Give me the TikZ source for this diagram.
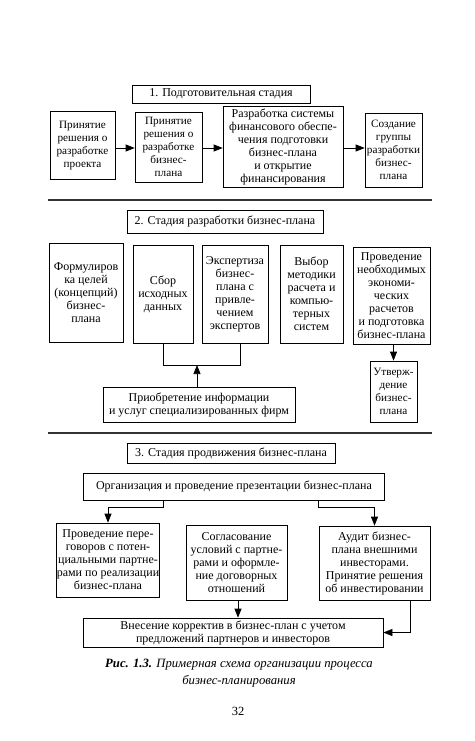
\documentclass[tikz,border=0pt]{standalone}
\usepackage{fontspec}
\setmainfont{Liberation Serif}
\usetikzlibrary{arrows.meta}
\begin{document}
\begin{tikzpicture}[x=1pt,y=-1pt,
  box/.style={draw, line width=0.7pt, align=center, inner sep=0pt,
    font=\fontsize{12}{13}\selectfont},
  nbox/.style={box, font=\fontsize{11.2}{13}\selectfont},
  arr/.style={line width=0.7pt, -{Triangle[length=9pt,width=7pt]}},
  conn/.style={line width=0.7pt},
  sep/.style={line width=1.1pt, black!80}]
\useasboundingbox (0,0) rectangle (474,741);
% Stage 1
\node[box, minimum width=178pt, minimum height=18pt] (T1) at (221,94) {1. Подготовительная стадия};
\node[nbox, minimum width=65pt, minimum height=68pt] (A) at (82.5,145.5) {Принятие\\решения о\\разработке\\проекта};
\node[nbox, minimum width=67pt, minimum height=70pt] (B) at (168.5,147) {Принятие\\решения о\\разработке\\бизнес-\\плана};
\node[box, minimum width=120pt, minimum height=81pt] (C) at (283,146.5) {Разработка системы\\финансового обеспе-\\чения подготовки\\бизнес-плана\\и открытие\\финансирования};
\node[nbox, minimum width=57pt, minimum height=74pt] (D) at (393.5,150) {Создание\\группы\\разработки\\бизнес-\\плана};
\draw[arr] (A.east |- 0,148) -- (B.west |- 0,148);
\draw[arr] (B.east |- 0,148) -- (C.west |- 0,148);
\draw[arr] (C.east |- 0,148) -- (D.west |- 0,148);
\coordinate (s1l) at (48,200);
\coordinate (s1r) at (432,200);
\draw[sep] (s1l) -- (s1r);
% Stage 2
\node[box, minimum width=196pt, minimum height=23pt] (T2) at (225,221.5) {2. Стадия разработки бизнес-плана};
\node[box, minimum width=74pt, minimum height=99pt] (F1) at (86,292.5) {Формулиров\\ка целей\\(концепций)\\бизнес-\\плана};
\node[box, minimum width=60pt, minimum height=98pt] (F2) at (163,294) {Сбор\\исходных\\данных};
\node[box, minimum width=66pt, minimum height=98pt] (F3) at (235,294) {Экспертиза\\бизнес-\\плана с\\привле-\\чением\\экспертов};
\node[box, minimum width=63pt, minimum height=98pt] (F4) at (311.5,294) {Выбор\\методики\\расчета и\\компью-\\терных\\систем};
\node[box, minimum width=77pt, minimum height=97pt] (F5) at (391.5,295.5) {Проведение\\необходимых\\экономи-\\ческих\\расчетов\\и подготовка\\бизнес-плана};
\node[nbox, minimum width=47pt, minimum height=61pt] (F6) at (393.5,391.5) {Утверж-\\дение\\бизнес-\\плана};
\node[box, minimum width=192pt, minimum height=35pt] (G) at (199,404.5) {Приобретение информации\\и услуг специализированных фирм};
\draw[arr] (F5.south -| F6.north) -- (F6.north);
\coordinate (br) at (240,365);
\draw[conn] (F2.south) |- (br) -- (br |- F3.south);
\draw[arr] (G.north -| 197,0) -- (197,365);
\coordinate (s2l) at (48,433);
\coordinate (s2r) at (432,433);
\draw[sep] (s2l) -- (s2r);
% Stage 3
\node[box, minimum width=208pt, minimum height=20pt] (T3) at (231,453) {3. Стадия продвижения бизнес-плана};
\node[box, minimum width=301pt, minimum height=27pt] (O) at (234,486.5) {Организация и проведение презентации бизнес-плана};
\node[box, minimum width=100pt, minimum height=74pt] (H) at (108,560) {Проведение пере-\\говоров с потен-\\циальными партне-\\рами по реализации\\бизнес-плана};
\node[box, minimum width=101pt, minimum height=75pt] (I) at (236.5,562.5) {Согласование\\условий с партне-\\рами и оформле-\\ние договорных\\отношений};
\node[box, minimum width=111pt, minimum height=74pt] (J) at (374.5,563) {Аудит бизнес-\\плана внешними\\инвесторами.\\Принятие решения\\об инвестировании};
\node[box, minimum width=300pt, minimum height=29pt] (K) at (233,632.5) {Внесение корректив в бизнес-план с учетом\\предложений партнеров и инвесторов};
\draw[arr] ([xshift=-71pt]O.south) -- ++(0,7) -| (H.north);
\draw[arr] ([xshift=84pt]O.south) -- ++(0,7) -| (J.north);
\draw[arr] ([xshift=1.5pt]I.south) -- ([xshift=1.5pt]I.south |- K.north);
\draw[arr] ([xshift=35.5pt]J.south) |- (K.east);
% Caption
\node[align=center, inner sep=0pt, font=\fontsize{12.7}{17}\selectfont\itshape] (cap) at (239,673.5) {\textbf{Рис. 1.3.} Примерная схема организации процесса\\бизнес-планирования};
\node[inner sep=0pt, font=\fontsize{12.5}{14}\selectfont] (pg) at (238,711) {32};
\end{tikzpicture}
\end{document}
